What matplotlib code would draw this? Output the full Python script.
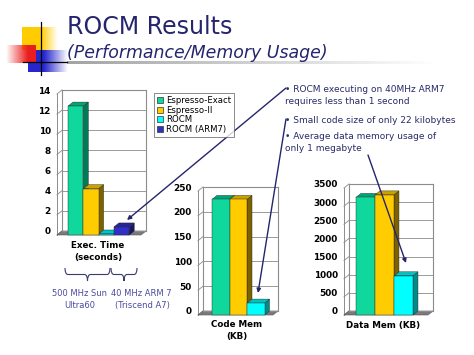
import numpy as np
import matplotlib
matplotlib.use("Agg")
import matplotlib.pyplot as plt
from matplotlib.patches import Polygon, Patch, Rectangle, PathPatch
from matplotlib.path import Path

W, H = 474, 355

series = ["Espresso-Exact", "Espresso-II", "ROCM", "ROCM (ARM7)"]
exec_time = [12.8, 4.6, 0.1, 0.8]
code_mem = [233, 233, 24]
data_mem = [3240, 3310, 1080]

exec_ticks = [0, 2, 4, 6, 8, 10, 12, 14]
code_ticks = [0, 50, 100, 150, 200, 250]
data_ticks = [0, 500, 1000, 1500, 2000, 2500, 3000, 3500]

# face, side, top
colors = [
    ("#10d89c", "#007a58", "#00a577"),
    ("#ffcc00", "#7d6300", "#c9a100"),
    ("#00ffff", "#008a8a", "#00c4c4"),
    ("#3030c8", "#18186a", "#2424a0"),
]

NAVY = "#25256e"
TXT = "#2a2a6a"


def fr(l, t, r, b):
    return [l / W, 1 - b / H, (r - l) / W, (b - t) / H]


def chart(rect, values, ticks, start, bar_px, depth_px=(5, 4)):
    l, t, r, b = rect
    ax = fig.add_axes(fr(l, t, r, b))
    xmax = (r - l) / bar_px
    ymax = ticks[-1]
    ax.set_xlim(0, xmax)
    ax.set_ylim(0, ymax)
    dx = depth_px[0] / bar_px
    dy = depth_px[1] * ymax / (b - t)

    for s in ax.spines.values():
        s.set_color("#8c8c8c")
        s.set_linewidth(0.8)
    ax.set_xticks([])
    ax.set_yticks(ticks)
    ax.set_yticklabels([str(v) for v in ticks], fontsize=6.4,
                       fontweight="bold", color="black")
    ax.tick_params(axis="y", length=0, pad=8)
    ax.grid(axis="y", color="#9a9a9a", lw=0.7)
    ax.set_axisbelow(True)

    # side wall gridlines
    for v in ticks:
        ax.plot([-dx, 0], [v - dy, v], color="#9a9a9a", lw=0.7, clip_on=False)
    ax.plot([-dx, -dx], [-dy, ymax - dy], color="#8c8c8c", lw=0.7, clip_on=False)

    # floor
    ax.add_patch(Polygon([(-dx, -dy), (xmax - dx, -dy), (xmax, 0), (0, 0)],
                         closed=True, fc="#7a7a7a", ec="#555555", lw=0.4,
                         clip_on=False, zorder=2))

    for i, v in enumerate(values):
        face, side, top = colors[i]
        x = start + i
        w = 1.0
        ax.add_patch(Polygon([(x + w - dx, -dy), (x + w, 0), (x + w, v),
                              (x + w - dx, v - dy)], closed=True, fc=side,
                             ec="#222222", lw=0.3, clip_on=False, zorder=3))
        ax.add_patch(Polygon([(x - dx, v - dy), (x + w - dx, v - dy),
                              (x + w, v), (x, v)], closed=True, fc=top,
                             ec="#222222", lw=0.3, clip_on=False, zorder=3))
        ax.add_patch(Rectangle((x - dx, -dy), w, v, fc=face, ec="#222222",
                               lw=0.3, clip_on=False, zorder=4))
    return ax


fig = plt.figure(figsize=(W / 100, H / 100), dpi=100)
fig.patch.set_facecolor("white")

chart((62, 90, 146, 231), exec_time, exec_ticks, 0.72, 15.3)
chart((203, 187, 278, 311), code_mem, code_ticks, 0.8, 17.5)
chart((349, 184, 433, 311), data_mem, data_ticks, 0.63, 19.0)

# legend
handles = [Patch(fc=c[0], ec="#333333", lw=0.5) for c in colors]
leg = fig.legend(handles, series, loc="upper left",
                 bbox_to_anchor=(154 / W, 1 - 93 / H), fontsize=6.1,
                 frameon=True, fancybox=False, handlelength=0.75,
                 handleheight=0.75, handletextpad=0.3, borderpad=0.35,
                 labelspacing=0.08, borderaxespad=0)
leg.get_frame().set_edgecolor("#555555")
leg.get_frame().set_linewidth(0.6)

# overlay for slide decorations, texts and arrows
ov = fig.add_axes([0, 0, 1, 1], facecolor="none")
ov.axis("off")


def grad(rgb, x0, x1, y0, y1, xs, alphas):
    gx = np.linspace(x0, x1, 80)
    img = np.zeros((1, 80, 4))
    img[..., :3] = rgb
    img[..., 3] = np.interp(gx, xs, alphas)
    ov.imshow(img, extent=(x0, x1, y1, y0), aspect="auto", zorder=1,
              interpolation="bilinear")


grad((1.0, 0.8, 0.0), 22, 58, 27, 50, [22, 41, 58], [1, 1, 0])
grad((0.15, 0.15, 0.8), 28, 68, 50, 72, [28, 44, 68], [1, 1, 0])
grad((0.92, 0.12, 0.12), 6, 36, 45, 63, [6, 28, 36], [0, 1, 1])
ov.plot([41, 41], [22, 75], color="black", lw=0.9, zorder=2)
ov.plot([23, 67], [62, 62], color="black", lw=0.9, zorder=2)
img = np.zeros((1, 64, 4))
img[..., :3] = 0.55
img[..., 3] = np.linspace(0.8, 0, 64)
ov.imshow(img, extent=(67, 440, 64, 61), aspect="auto", zorder=1)
ov.set_xlim(0, W)
ov.set_ylim(H, 0)

ov.text(67, 34, "ROCM Results", fontsize=17, color=NAVY, va="baseline")
ov.text(67, 58, "(Performance/Memory Usage)", fontsize=12.5, style="italic",
        color=NAVY, va="baseline")

bullets = [
    (285, 92, "\u2022 ROCM executing on 40MHz ARM7"),
    (285, 104, "requires less than 1 second"),
    (285, 123, "\u2022 Small code size of only 22 kilobytes"),
    (285, 139, "\u2022 Average data memory usage of"),
    (285, 151, "only 1 megabyte"),
]
for x, y, s in bullets:
    ov.text(x, y, s, fontsize=6.5, color=TXT, va="baseline")

for x, y, s in [(98, 248, "Exec. Time"), (98, 260, "(seconds)"),
                (237, 327, "Code Mem"), (237, 339, "(KB)"),
                (383, 328, "Data Mem (KB)")]:
    ov.text(x, y, s, fontsize=6.3, fontweight="bold", ha="center",
            va="baseline", color="black")

for x, y, s in [(80, 296, "500 MHz Sun"), (80, 308, "Ultra60"),
                (141, 296, "40 MHz ARM 7"), (142, 308, "(Triscend A7)")]:
    ov.text(x, y, s, fontsize=6.0, ha="center", va="baseline", color="#4a4aa0")


def brace(x0, x1, yt, h):
    xm = (x0 + x1) / 2
    r = 3
    verts = [(x0, yt), (x0, yt + h / 2), (x0 + r, yt + h / 2),
             (xm - r, yt + h / 2), (xm, yt + h / 2), (xm, yt + h),
             (xm, yt + h / 2), (xm + r, yt + h / 2),
             (x1 - r, yt + h / 2), (x1, yt + h / 2), (x1, yt)]
    codes = [Path.MOVETO, Path.CURVE3, Path.CURVE3,
             Path.LINETO, Path.CURVE3, Path.CURVE3,
             Path.CURVE3, Path.CURVE3,
             Path.LINETO, Path.CURVE3, Path.CURVE3]
    ov.add_patch(PathPatch(Path(verts, codes), fc="none", ec="#3a3a70", lw=0.8))


brace(65, 110, 268, 13)
brace(111, 137, 268, 13)

arrows = [((286, 88), (127, 220)), ((286, 119), (258, 293)),
          ((368, 155), (406, 263))]
for (x0, y0), (x1, y1) in arrows:
    ov.annotate("", xy=(x1, y1), xytext=(x0, y0),
                arrowprops=dict(arrowstyle="-|>", color=NAVY, lw=1.0,
                                mutation_scale=6, shrinkA=0, shrinkB=0))

fig.savefig("out.png", dpi=100)
